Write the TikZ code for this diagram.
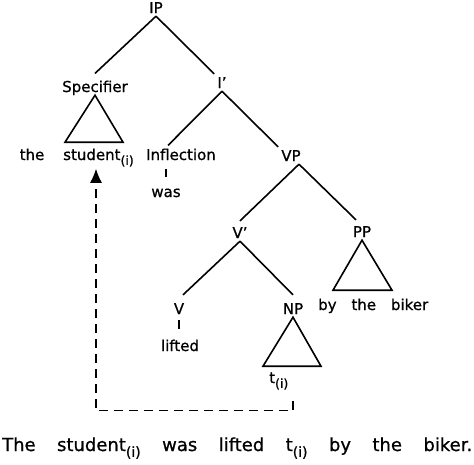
\documentclass[tikz,border=0pt]{standalone}
\usepackage{fontspec}
\setmainfont{DejaVu Sans}[FakeBold=0.8]
\usepackage{tikz}
\usetikzlibrary{arrows.meta,positioning,calc}
\newcommand{\lowidx}[1]{\raisebox{-0.6ex}{\fontsize{12.5}{12.5}\selectfont #1}}
\tikzset{
  cat/.style={font=\fontsize{15}{18}\selectfont,inner sep=3pt,text depth=0pt,anchor=base},
  word/.style={font=\fontsize{15}{18}\selectfont,inner sep=0pt,anchor=base},
  branch/.style={line width=1.6pt},
  roof/.style={line width=1.6pt,line join=miter},
  tick/.style={line width=1.2pt},
  move/.style={line width=1.2pt,dash pattern=on 9pt off 6pt,
               -{Latex[length=14pt,width=12pt]}},
}
\begin{document}
\begin{tikzpicture}[x=1pt,y=-1pt]
  \useasboundingbox (0,0) rectangle (474,464);
  % categories
  \node[cat] (IP)   at (156,13)  {IP};
  \node[cat] (Spec) at (95,92)   {Specifier};
  \node[cat] (Ibar) at (222,88)  {I'};
  \node[cat] (Infl) at (181,160) {Inflection};
  \node[cat] (VP)   at (291,161) {VP};
  \node[cat] (Vbar) at (240,238) {V'};
  \node[cat] (PP)   at (362,237) {PP};
  \node[cat] (V)    at (179,314) {V};
  \node[cat] (NP)   at (293,314) {NP};
  % words
  \node[word] (the)    at (32,160) {the};
  \node[word,anchor=base west] (stud) at (63,160) {student\lowidx{(i)}};
  \node[word] (was)    at (166,197) {was};
  \node[word] (lifted) at (180,351) {lifted};
  \node[word,anchor=base west] (biker) at (318,310) {\makebox[110pt][s]{by the biker}};
  \node[word,anchor=base west] (trace) at (269,383) {t\lowidx{(i)}};
  \node[word,anchor=base west,font=\fontsize{18}{22}\selectfont] (sent) at (2,451)
    {\makebox[470pt][s]{The student\lowidx{\fontsize{14}{14}\selectfont(i)} was lifted t\lowidx{\fontsize{14}{14}\selectfont(i)} by the biker.}};
  % branches
  \draw[branch] (IP.south) -- ([yshift=4pt]Spec.north);
  \draw[branch] (IP.south) -- (Ibar.north west);
  \draw[branch] (Ibar.south) -- ([xshift=-13pt]Infl.north);
  \draw[branch] (Ibar.south) -- (VP.north west);
  \draw[branch] ([xshift=8pt]VP.south) -- ([yshift=3pt]Vbar.north);
  \draw[branch] ([xshift=8pt]VP.south) -- ([xshift=-6pt,yshift=3pt]PP.north);
  \draw[branch] (Vbar.south) -- ([xshift=4pt,yshift=5pt]V.north);
  \draw[branch] (Vbar.south) -- ([yshift=5pt]NP.north);
  \draw[tick,shorten <=6pt,shorten >=11pt] (was.north |- Infl.south) -- (was.north);
  \draw[tick,shorten <=3pt,shorten >=10pt] (V.south) -- (V.south |- lifted.north);
  % roofs
  \draw[roof] (Spec.south) -- ++(-30,47) -- ++(58,0) -- cycle;
  \draw[roof] (PP.south) -- ++(-29,50) -- ++(59,0) -- cycle;
  \draw[roof] (NP.south) -- ++(-30,49) -- ++(58,0) -- cycle;
  % movement of the trace
  \draw[move,shorten >=2pt] ([yshift=-11pt]trace.south -| NP.south) -- ++(0,10)
    -| ([xshift=1pt]Spec.south |- stud.south);
\end{tikzpicture}
\end{document}
